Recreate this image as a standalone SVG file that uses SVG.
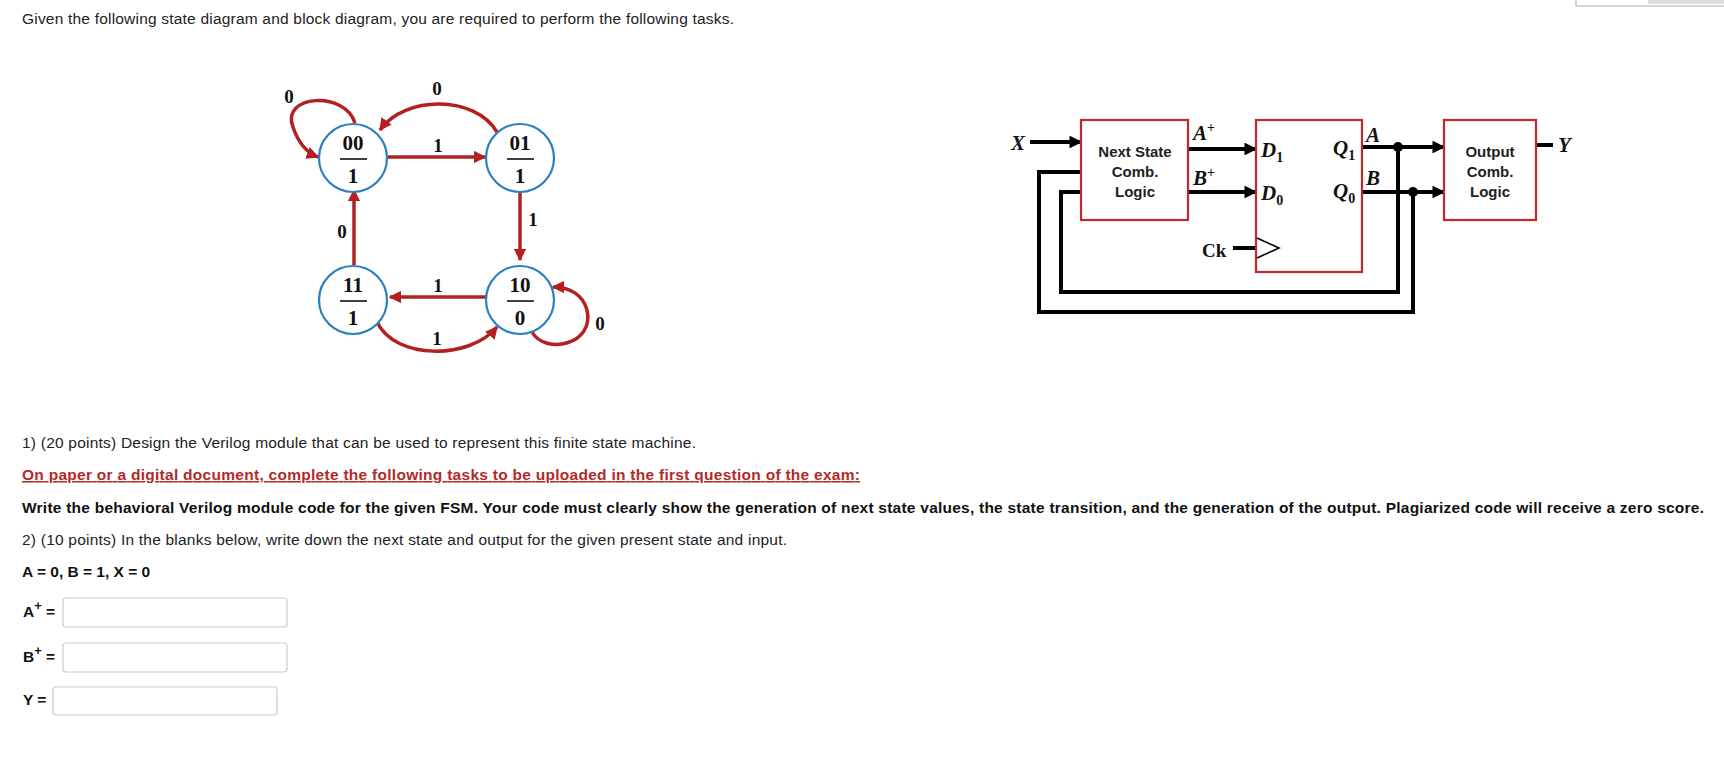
<svg xmlns="http://www.w3.org/2000/svg" width="1724" height="759" viewBox="0 0 1724 759">
<style>
.t{font-family:"Liberation Sans",Arial,sans-serif;font-size:15.5px;fill:#222}
.b{font-weight:bold}
.st{fill:#fff;stroke:#2a7fc1;stroke-width:2.2}
.sl{font-family:"Liberation Serif",serif;font-weight:bold;font-size:19px;fill:#111;text-anchor:middle}
.nl{font-size:21px}
.tr{fill:none;stroke:#b42020;stroke-width:3.5}
.box{fill:#fff;stroke:#c0282d;stroke-width:2.2}
.bt{font-family:"Liberation Sans",Arial,sans-serif;font-weight:bold;font-size:15px;fill:#222;text-anchor:middle}
.w{fill:none;stroke:#000;stroke-width:4}
.m{font-family:"Liberation Serif",serif;font-weight:bold;font-style:italic;font-size:21px;fill:#111}
.in{fill:#fff;stroke:#ccc;stroke-width:1.2}
.fl{stroke:#111;stroke-width:1.6}
</style>
<defs>
<marker id="ra" viewBox="0 0 10 10" refX="9" refY="5" markerWidth="3.6" markerHeight="3.6" orient="auto"><path d="M0,0 L10,5 L0,10 z" fill="#b42020"/></marker>
<marker id="ka" viewBox="0 0 10 10" refX="9" refY="5" markerWidth="3.6" markerHeight="3.2" orient="auto"><path d="M0,0 L10,5 L0,10 z" fill="#000"/></marker>
</defs>
<rect x="1576" y="-2" width="160" height="8" fill="#fff" stroke="#aaa"/>
<rect x="1648" y="0" width="80" height="4" fill="#ddd"/>
<text class="t" x="22" y="24" textLength="712">Given the following state diagram and block diagram, you are required to perform the following tasks.</text>

<g id="connectors">
<path class="tr" marker-end="url(#ra)" d="M388,157 L485,157"/>
<path class="tr" marker-end="url(#ra)" d="M497,132 C475,95 405,95 380,130"/>
<path class="tr" marker-end="url(#ra)" d="M355,123 C345,90 280,95 293,127 C298,142 305,152 318,157"/>
<path class="tr" marker-end="url(#ra)" d="M520,192 L520,260"/>
<path class="tr" marker-end="url(#ra)" d="M487,297 L390,297"/>
<path class="tr" marker-end="url(#ra)" d="M354,265 L354,190"/>
<path class="tr" marker-end="url(#ra)" d="M377,322 C395,360 470,360 497,327"/>
<path class="tr" marker-end="url(#ra)" d="M532,332 C545,355 595,345 587,310 C583,295 570,287 553,287"/>
</g>
<g id="edge-labels">
<text class="sl" x="438" y="152">1</text>
<text class="sl" x="437" y="95">0</text>
<text class="sl" x="289" y="103">0</text>
<text class="sl" x="533" y="226">1</text>
<text class="sl" x="438" y="292">1</text>
<text class="sl" x="342" y="238">0</text>
<text class="sl" x="437" y="345">1</text>
<text class="sl" x="600" y="330">0</text>
</g>
<g id="s00"><circle class="st" cx="353" cy="158" r="34"/><text class="sl nl" x="353" y="150">00</text><line class="fl" x1="340" y1="159" x2="367" y2="159"/><text class="sl nl" x="353" y="183">1</text></g>
<g id="s01"><circle class="st" cx="520" cy="158" r="34"/><text class="sl nl" x="520" y="150">01</text><line class="fl" x1="507" y1="159" x2="534" y2="159"/><text class="sl nl" x="520" y="183">1</text></g>
<g id="s11"><circle class="st" cx="353" cy="300" r="34"/><text class="sl nl" x="353" y="292">11</text><line class="fl" x1="340" y1="301" x2="367" y2="301"/><text class="sl nl" x="353" y="325">1</text></g>
<g id="s10"><circle class="st" cx="520" cy="300" r="34"/><text class="sl nl" x="520" y="292">10</text><line class="fl" x1="507" y1="301" x2="534" y2="301"/><text class="sl nl" x="520" y="325">0</text></g>

<g id="wires">
<path class="w" marker-end="url(#ka)" d="M1030,142 L1081,142"/>
<path class="w" marker-end="url(#ka)" d="M1188,149 L1256,149"/>
<path class="w" marker-end="url(#ka)" d="M1188,192 L1256,192"/>
<path class="w" marker-end="url(#ka)" d="M1362,147 L1444,147"/>
<path class="w" marker-end="url(#ka)" d="M1362,192 L1444,192"/>
<path class="w" d="M1398,147 L1398,292 L1061,292 L1061,192 L1081,192"/>
<path class="w" d="M1413,192 L1413,312 L1039,312 L1039,172 L1081,172"/>
<path class="w" d="M1233,248 L1256,248"/>
<path class="w" d="M1536,145 L1553,145"/>
<circle cx="1398" cy="147" r="5"/>
<circle cx="1413" cy="192" r="5"/>
</g>
<g id="nextstate"><rect class="box" x="1081" y="120" width="107" height="100"/><text class="bt" x="1135" y="157">Next State</text><text class="bt" x="1135" y="177">Comb.</text><text class="bt" x="1135" y="197">Logic</text></g>
<g id="flipflop"><rect class="box" x="1256" y="120" width="106" height="152"/>
<text class="m" x="1261" y="157">D<tspan font-size="14" dy="5" font-style="normal">1</tspan></text>
<text class="m" x="1261" y="200">D<tspan font-size="14" dy="5" font-style="normal">0</tspan></text>
<text class="m" x="1333" y="155">Q<tspan font-size="14" dy="5" font-style="normal">1</tspan></text>
<text class="m" x="1333" y="198">Q<tspan font-size="14" dy="5" font-style="normal">0</tspan></text>
<path d="M1257,238 L1279,248 L1257,258" fill="none" stroke="#000" stroke-width="1.6"/></g>
<g id="output"><rect class="box" x="1444" y="120" width="92" height="100"/><text class="bt" x="1490" y="157">Output</text><text class="bt" x="1490" y="177">Comb.</text><text class="bt" x="1490" y="197">Logic</text></g>
<g id="signal-labels">
<text class="m" x="1011" y="150">X</text>
<text class="m" x="1193" y="140">A<tspan font-size="14" dy="-8" font-style="normal">+</tspan></text>
<text class="m" x="1193" y="185">B<tspan font-size="14" dy="-8" font-style="normal">+</tspan></text>
<text class="m" x="1366" y="142">A</text>
<text class="m" x="1366" y="185">B</text>
<text class="m" x="1558" y="152">Y</text>
<text x="1202" y="257" font-family="Liberation Serif,serif" font-weight="bold" font-size="19" fill="#111">Ck</text>
</g>

<text class="t" x="22" y="448" textLength="674">1) (20 points) Design the Verilog module that can be used to represent this finite state machine.</text>
<text class="t b" x="22" y="480" textLength="838" style="fill:#b22a2a;text-decoration:underline">On paper or a digital document, complete the following tasks to be uploaded in the first question of the exam:</text>
<text class="t b" x="22" y="513" textLength="1682" style="fill:#111">Write the behavioral Verilog module code for the given FSM. Your code must clearly show the generation of next state values, the state transition, and the generation of the output. Plagiarized code will receive a zero score.</text>
<text class="t" x="22" y="545" textLength="765">2) (10 points) In the blanks below, write down the next state and output for the given present state and input.</text>
<text class="t b" x="22" y="577" style="fill:#111">A = 0, B = 1, X = 0</text>
<text class="t b" x="23" y="617" style="fill:#111">A<tspan dy="-7" font-size="13">+</tspan><tspan dy="7"> =</tspan></text>
<rect class="in" x="63" y="598" width="224" height="29" rx="3"/>
<text class="t b" x="23" y="662" style="fill:#111">B<tspan dy="-7" font-size="13">+</tspan><tspan dy="7"> =</tspan></text>
<rect class="in" x="63" y="643" width="224" height="29" rx="3"/>
<text class="t b" x="23" y="705" style="fill:#111">Y =</text>
<rect class="in" x="53" y="687" width="224" height="28" rx="3"/>
</svg>
